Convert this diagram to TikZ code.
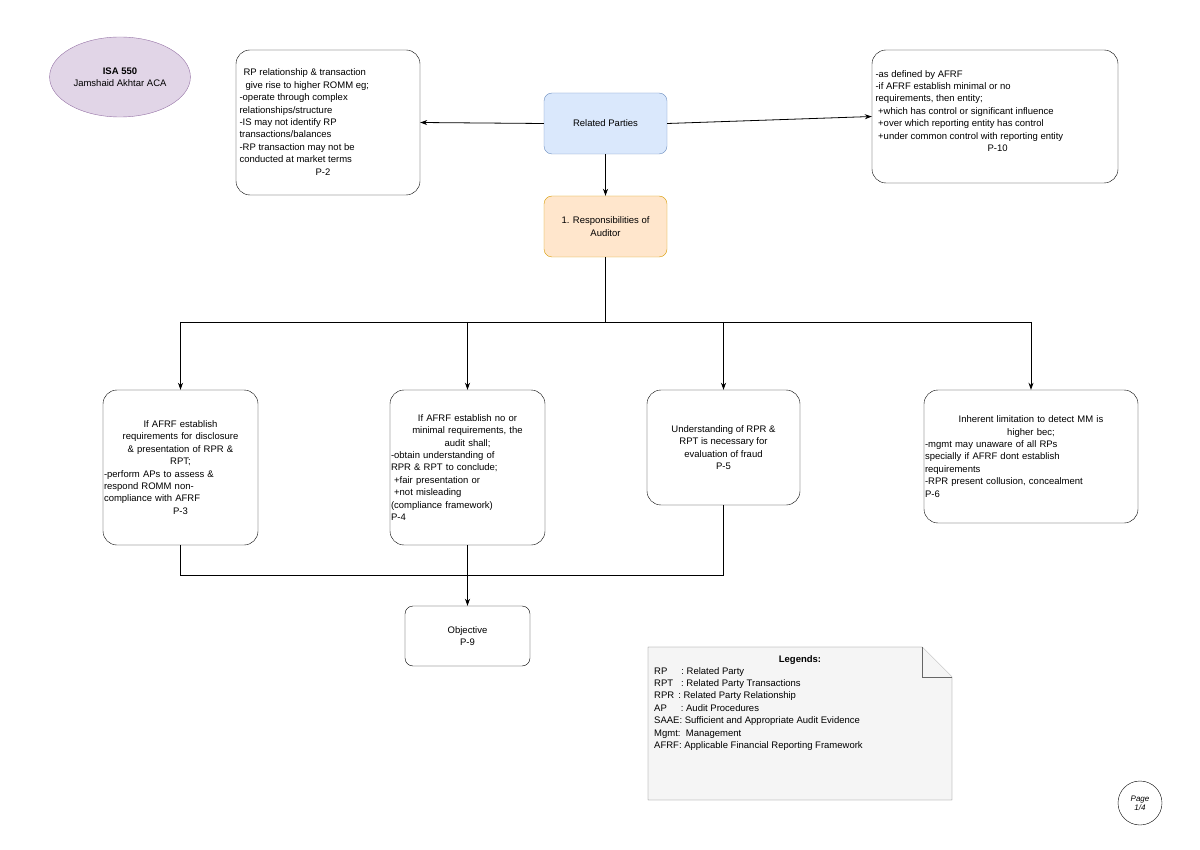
\documentclass[tikz,border=0pt]{standalone}
\usepackage{fontspec}
\setmainfont{Liberation Sans}
\usetikzlibrary{shapes.geometric,arrows.meta}
\definecolor{pfill}{HTML}{E1D5E7}\definecolor{pline}{HTML}{9673A6}
\definecolor{bfill}{HTML}{DAE8FC}\definecolor{bline}{HTML}{6C8EBF}
\definecolor{ofill}{HTML}{FFE6CC}\definecolor{oline}{HTML}{D79B00}
\definecolor{gfill}{HTML}{F5F5F5}\definecolor{gline}{HTML}{666666}
\begin{document}
\begin{tikzpicture}[x=1pt,y=-1pt,
  box/.style={draw,rounded corners=14pt,inner sep=1pt,font=\fontsize{9.5}{12.4}\selectfont},
  arr/.style={-{Stealth[length=7pt,width=5pt]},line width=0.8pt},
  ln/.style={line width=0.8pt}]
\useasboundingbox (0,0) rectangle (1200,850);
\node[ellipse,draw=pline,fill=pfill,minimum width=136pt,minimum height=80pt,align=center,font=\fontsize{9.5}{12.4}\selectfont] (isa) at (120,77) {\textbf{ISA 550}\\Jamshaid Akhtar ACA};
\node[box,minimum width=184pt,minimum height=145pt,align=left] (l) at (328,122.5) {};
\node[font=\fontsize{9.5}{12.4}\selectfont,align=left,anchor=west] at (236,122) {\hspace*{4pt}RP relationship \& transaction\\\hspace*{6pt}give rise to higher ROMM eg;\\-operate through complex\\relationships/structure\\-IS may not identify RP\\transactions/balances\\-RP transaction may not be\\conducted at market terms\\\hspace*{76pt}P-2};
\node[box,draw=bline,fill=bfill,minimum width=123pt,minimum height=61pt,rounded corners=8pt] (rp) at (605.5,123.5) {Related Parties};
\node[box,minimum width=246pt,minimum height=133pt] (r) at (995,116.5) {};
\node[font=\fontsize{9.5}{12.4}\selectfont,align=left,anchor=west] at (872,111) {-as defined by AFRF\\-if AFRF establish minimal or no\\requirements, then entity;\\\ +which has control or significant influence\\\ +over which reporting entity has control\\\ +under common control with reporting entity\\\hspace*{112pt}P-10};
\node[box,draw=oline,fill=ofill,minimum width=123pt,minimum height=61pt,rounded corners=8pt,align=center] (resp) at (605.5,226.5) {1. Responsibilities of\\Auditor};
\node[box,minimum width=155pt,minimum height=155pt,align=center,text width=153pt] (a) at (180.5,467.5) {If AFRF establish\\requirements for disclosure\\\& presentation of RPR \&\\RPT;\\\raggedright -perform APs to assess \&\\respond ROMM non-\\compliance with AFRF\\\centering P-3};
\node[box,minimum width=155pt,minimum height=155pt,align=left,text width=153pt] (b) at (467.5,467.5) {\centering If AFRF establish no or\\minimal requirements, the\\audit shall;\\\raggedright -obtain understanding of\\RPR \& RPT to conclude;\\\ +fair presentation or\\\ +not misleading\\(compliance framework)\\\centering P-4};
\node[box,minimum width=153pt,minimum height=115pt,align=center] (c) at (723.5,447.5) {Understanding of RPR \&\\RPT is necessary for\\evaluation of fraud\\P-5};
\node[box,minimum width=214pt,minimum height=133pt,text width=212pt,align=left] (d) at (1031,456.5) {\centering Inherent limitation to detect MM is\\higher bec;\\\raggedright -mgmt may unaware of all RPs\\specially if AFRF dont establish\\requirements\\-RPR present collusion, concealment\\\centering P-6};
\node[box,minimum width=125pt,minimum height=60pt,rounded corners=8pt,align=center] (obj) at (467.5,636) {Objective\\P-9};
\draw[arr] (rp.west) -- (l.east);
\draw[arr] (rp.east) -- (r.west);
\draw[arr] (rp.south) -- (resp.north);
\coordinate (j) at (605.5,322);
\draw[ln] (resp.south) -- (j);
\draw[ln] (180.5,322) -- (1031,322);
\draw[arr] (180.5,322) -- (a.north);
\draw[arr] (467.5,322) -- (b.north);
\draw[arr] (723.5,322) -- (c.north);
\draw[arr] (1031,322) -- (d.north);
\draw[ln] (a.south) -- (180.5,575) -- (723.5,575) -- (c.south);
\draw[arr] (b.south) -- (obj.north);
\draw[gline,fill=gfill] (648,647) -- (922,647) -- (952,677) -- (952,800) -- (648,800) -- cycle;
\draw[gline,fill=gfill] (922,647) -- (922,677) -- (952,677);
\node[font=\fontsize{9.5}{12.4}\selectfont\bfseries] (lg) at (800,660) {Legends:};
\node[font=\fontsize{9.5}{12.4}\selectfont,anchor=north west,align=left,inner sep=0pt] (lt) at (654,667) {RP\hspace{14pt}: Related Party\\RPT\hspace{8pt}: Related Party Transactions\\RPR\hspace{4pt}: Related Party Relationship\\AP\hspace{14pt}: Audit Procedures\\SAAE: Sufficient and Appropriate Audit Evidence\\Mgmt:\ \ Management\\AFRF: Applicable Financial Reporting Framework};
\node[circle,draw,minimum size=44pt,inner sep=0pt,align=center,font=\fontsize{8}{9}\selectfont\itshape] (pg) at (1140,803) {Page\\1/4};
\end{tikzpicture}
\end{document}
